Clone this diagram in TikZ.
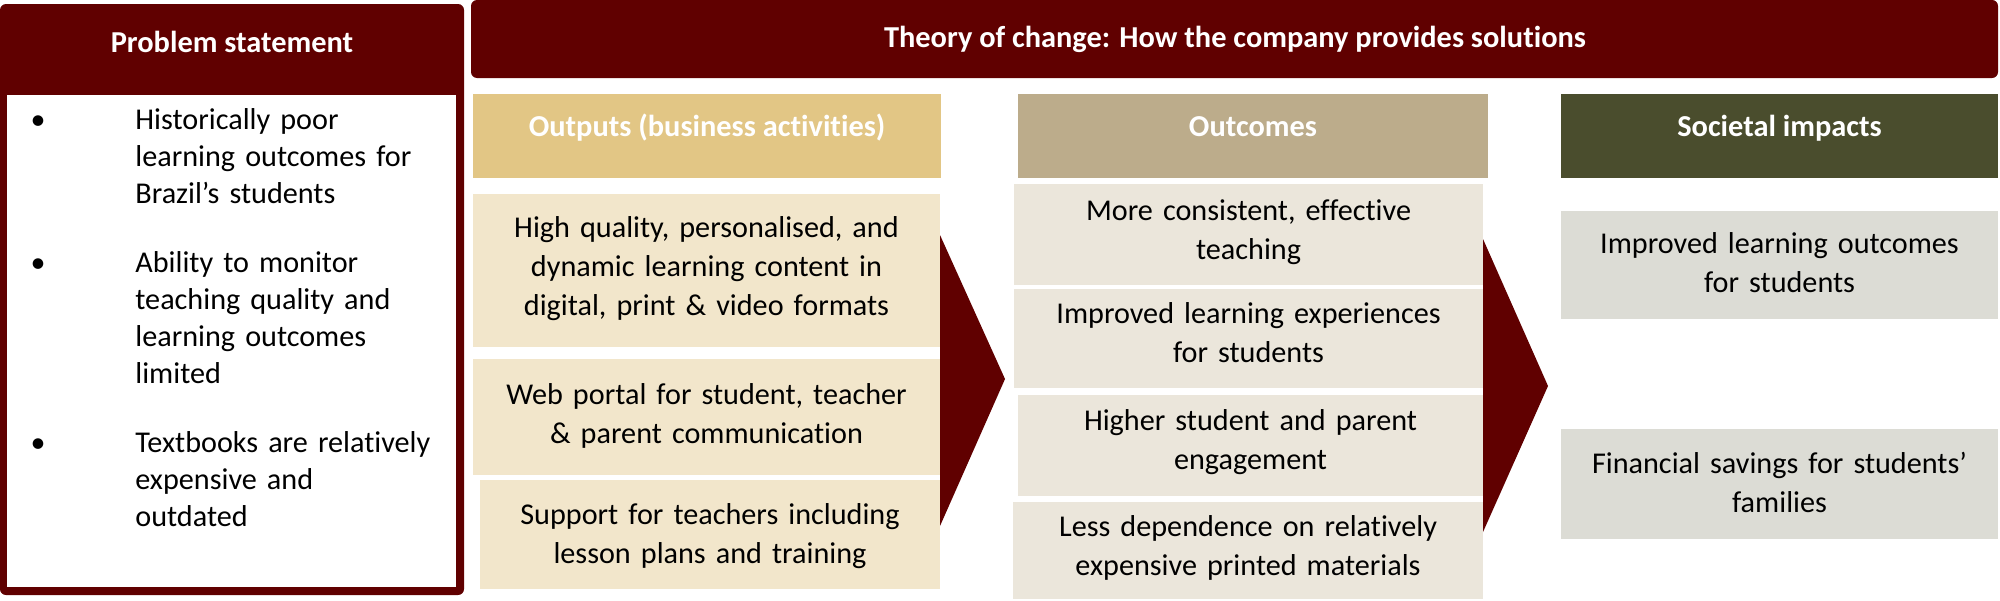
\documentclass[tikz,border=0pt]{standalone}
\usepackage{fontspec}
\setmainfont{Carlito}[Ligatures=NoCommon]
\usetikzlibrary{fit}
\definecolor{maroon}{HTML}{600000}
\definecolor{goldhdr}{HTML}{E2C685}
\definecolor{cream}{HTML}{F2E6CB}
\definecolor{tanhdr}{HTML}{BCAC8B}
\definecolor{ocbox}{HTML}{EBE6DB}
\definecolor{olivehdr}{HTML}{4A4D2D}
\definecolor{imbox}{HTML}{DCDCD5}
\begin{document}
\begin{tikzpicture}[x=0.5pt,y=-0.5pt,
  panel/.style={inner sep=0pt, outer sep=0pt, draw=none},
  hdrtext/.style={font=\fontsize{15.2pt}{18pt}\selectfont\bfseries, text=white, inner sep=0pt, anchor=base},
  boxtext/.style={font=\fontsize{15.1pt}{19.5pt}\selectfont, text=black, inner sep=0pt, anchor=base, align=center},
  probtext/.style={font=\fontsize{15.1pt}{18.5pt}\selectfont, text=black, inner sep=0pt, anchor=base west, align=left, text width=170pt},
  bulletmark/.style={font=\fontsize{15pt}{18pt}\selectfont, text=black, inner sep=0pt, anchor=base},
  chevron/.style={fill=maroon, draw=none}
]
\useasboundingbox (0,0) rectangle (2000,600);

% Problem statement panel
\node[panel, fill=maroon, rounded corners=3pt, fit={(0,4) (464,595)}] (prob) {};
\node[panel, fill=white, fit={(7,95) (456,587)}] (probbody) {};
\node[hdrtext] (probhdr) at (232,52) {Problem statement};

\node[bulletmark] (b1) at (38,129) {•};
\node[probtext] (p1) at (135,129) {Historically poor\\learning outcomes for\\Brazil’s students};
\node[bulletmark] (b2) at (38,272) {•};
\node[probtext] (p2) at (135,272) {Ability to monitor\\teaching quality and\\learning outcomes\\limited};
\node[bulletmark] (b3) at (38,452) {•};
\node[probtext] (p3) at (135,452) {Textbooks are relatively\\expensive and\\outdated};

% Theory of change header
\node[panel, fill=maroon, rounded corners=3pt, fit={(471,0) (1998,78)}] (toc) {};
\node[hdrtext] (tochdr) at (1235,47) {Theory of change: How the company provides solutions};

% Chevrons (drawn behind the boxes)
\coordinate (a1t) at (940,235);
\coordinate (a1p) at (1005,379);
\coordinate (a1b) at (940,526);
\fill[chevron] (a1t) -- (a1p) -- (a1b) -- cycle;
\coordinate (a2t) at (1483,239);
\coordinate (a2p) at (1548,386);
\coordinate (a2b) at (1483,532);
\fill[chevron] (a2t) -- (a2p) -- (a2b) -- cycle;

% Outputs column
\node[panel, fill=goldhdr, fit={(473,94) (941,178)}] (outhdr) {};
\node[hdrtext] (outhdrtext) at (707,136) {Outputs (business activities)};
\node[panel, fill=cream, fit={(473,194) (940,347)}] (out1) {};
\node[panel, fill=cream, fit={(473,359) (940,475)}] (out2) {};
\node[panel, fill=cream, fit={(480,480) (940,589)}] (out3) {};
\node[boxtext, text width=230pt] (out1t) at (706.5,237) {High quality, personalised, and\\dynamic learning content in\\digital, print \& video formats};
\node[boxtext, text width=230pt] (out2t) at (706.5,404) {Web portal for student, teacher\\\& parent communication};
\node[boxtext, text width=230pt] (out3t) at (710,524) {Support for teachers including\\lesson plans and training};

% Outcomes column
\node[panel, fill=tanhdr, fit={(1018,94) (1488,178)}] (ochdr) {};
\node[hdrtext] (ochdrtext) at (1253,136) {Outcomes};
\node[panel, fill=ocbox, fit={(1014,184) (1483,285)}] (oc1) {};
\node[panel, fill=ocbox, fit={(1014,289) (1483,388)}] (oc2) {};
\node[panel, fill=ocbox, fit={(1018,395) (1483,496)}] (oc3) {};
\node[panel, fill=ocbox, fit={(1013,502) (1483,599)}] (oc4) {};
\node[boxtext, text width=230pt] (oc1t) at (1248.5,220) {More consistent, effective\\teaching};
\node[boxtext, text width=230pt] (oc2t) at (1248.5,323) {Improved learning experiences\\for students};
\node[boxtext, text width=230pt] (oc3t) at (1250.5,430) {Higher student and parent\\engagement};
\node[boxtext, text width=230pt] (oc4t) at (1248,536) {Less dependence on relatively\\expensive printed materials};

% Societal impacts column
\node[panel, fill=olivehdr, fit={(1561,94) (1998,178)}] (imhdr) {};
\node[hdrtext] (imhdrtext) at (1779.5,136) {Societal impacts};
\node[panel, fill=imbox, fit={(1561,211) (1998,319)}] (im1) {};
\node[panel, fill=imbox, fit={(1561,429) (1998,539)}] (im2) {};
\node[boxtext, text width=215pt] (im1t) at (1779.5,253) {Improved learning outcomes\\for students};
\node[boxtext, text width=215pt] (im2t) at (1779.5,473) {Financial savings for students’\\families};
\end{tikzpicture}
\end{document}
